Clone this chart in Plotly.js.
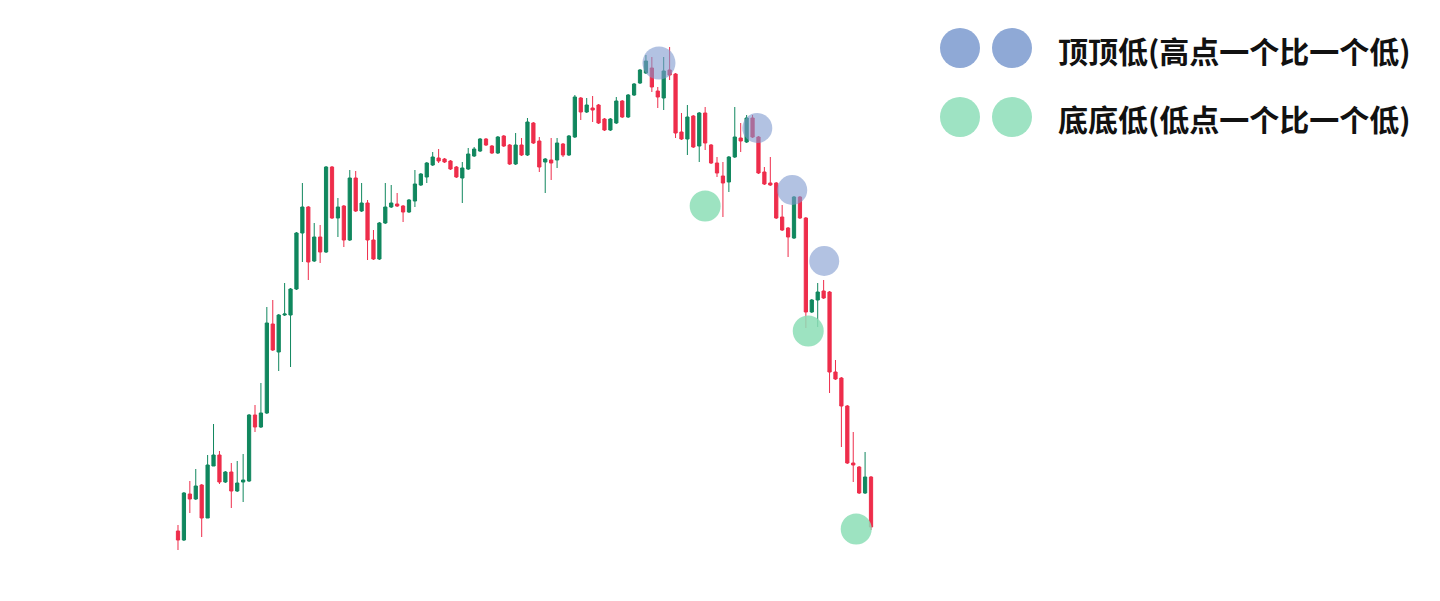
<!DOCTYPE html>
<html>
<head>
<meta charset="utf-8">
<script src="https://cdn.plot.ly/plotly-3.0.1.min.js"></script>
<style>html,body{margin:0;padding:0;background:#fff;}#chart{width:1440px;height:601px;}</style>
</head>
<body>
<div id="chart"></div>
<script>
// Candle values (arbitrary price units)
const openV  = [69,60,106,101,115,82,134,145,118,128,109,118,119,185,173,187,276,248,285,285,311,367,393,339,363,348,433,382,394,360,422,389,397,360,341,377,393,396,394,388,399,415,423,435,442,441,439,433,422,431,444,449,461,454,447,464,455,436,455,445,477,459,438,440,440,456,445,463,502,488,492,495,481,470,477,499,483,505,517,527,532,509,502,530,526,468,461,484,454,487,455,437,424,418,443,462,458,482,463,428,417,417,383,372,362,403,382,288,300,309,308,228,222,194,137,133,107,123];
const highV  = [75,108,119,131,116,145,176,149,129,137,139,146,186,195,217,293,300,286,317,312,368,417,394,377,375,434,434,402,395,430,429,417,400,370,378,417,415,407,395,401,430,427,438,448,451,442,440,434,438,452,453,462,462,455,464,465,456,467,462,482,478,463,442,462,462,457,465,505,503,502,504,496,482,482,503,500,506,517,531,545,543,513,543,553,527,487,495,485,488,493,456,443,438,444,493,477,485,485,464,433,443,418,395,373,404,404,383,301,317,320,309,240,223,195,168,134,148,124];
const lowV   = [50,59,87,100,63,82,134,116,117,92,108,98,118,168,172,186,249,229,284,233,310,338,320,338,337,347,381,363,353,359,388,388,340,340,340,376,392,393,378,387,393,414,417,434,437,437,430,422,397,430,443,448,454,446,446,453,435,435,444,444,456,428,407,420,432,443,444,462,480,487,478,476,469,469,476,482,482,504,516,526,508,492,490,520,462,460,445,452,438,450,436,423,383,408,442,448,457,462,426,415,414,381,369,343,361,381,272,287,273,301,207,220,153,136,118,106,106,70];
const closeV = [60,107,101,114,82,135,145,118,128,109,117,120,185,173,187,277,250,285,286,311,367,393,338,363,348,433,382,393,360,422,389,397,360,341,377,393,397,394,388,400,416,426,437,443,439,438,431,423,432,446,451,461,455,447,463,454,436,455,445,478,457,433,441,437,457,445,464,503,488,495,490,477,470,481,499,483,505,516,530,539,513,503,529,525,467,461,483,453,487,457,437,427,417,443,463,459,482,463,427,416,415,382,370,363,403,382,288,300,308,302,228,221,194,137,135,107,123,73];

// Highlight circles: lower highs (blue) and lower lows (green)
const topX = [81.2, 97.8, 103.7, 109.1];
const topY = [537, 472, 410, 339];
const bottomX = [89.0, 106.4, 114.5];
const bottomY = [394, 269, 71];

// Legend texts
const legendTop = '顶顶低(高点一个比一个低)';
const legendBottom = '底底低(低点一个比一个低)';

const xIdx = openV.map((_, i) => i);

const candle = {
  type: 'candlestick',
  x: xIdx, open: openV, high: highV, low: lowV, close: closeV,
  increasing: {line: {color: '#10875e', width: 1}, fillcolor: '#10875e'},
  decreasing: {line: {color: '#ee2d4b', width: 1}, fillcolor: '#ee2d4b'},
  whiskerwidth: 0,
  hoverinfo: 'skip',
  showlegend: false
};
const tops = {
  type: 'scatter', mode: 'markers', x: topX, y: topY,
  marker: {size: [33, 30, 30, 30], color: 'rgba(125,153,206,0.85)', line: {width: 0}},
  hoverinfo: 'skip', showlegend: false
};
const bottoms = {
  type: 'scatter', mode: 'markers', x: bottomX, y: bottomY,
  marker: {size: 31, color: 'rgba(140,222,182,0.85)', line: {width: 0}},
  hoverinfo: 'skip', showlegend: false
};

const circ = (cx, cy, r, color) => ({
  type: 'circle', xref: 'paper', yref: 'paper', layer: 'above',
  x0: (cx - r) / 1440, x1: (cx + r) / 1440,
  y0: 1 - (cy + r) / 601, y1: 1 - (cy - r) / 601,
  fillcolor: color, line: {width: 0}
});

const layout = {
  width: 1440, height: 601,
  margin: {l: 0, r: 0, t: 0, b: 0},
  paper_bgcolor: '#ffffff', plot_bgcolor: '#ffffff',
  boxgap: 0.22,
  xaxis: {range: [-30.05, 213.06], visible: false, fixedrange: true, rangeslider: {visible: false}},
  yaxis: {range: [-1, 600], visible: false, fixedrange: true},
  shapes: [
    circ(960, 48, 20, '#8fa9d6'), circ(1012, 48, 20, '#8fa9d6'),
    circ(960, 117, 20, '#9ee3c3'), circ(1012, 117, 20, '#9ee3c3')
  ],
  annotations: [
    {xref: 'paper', yref: 'paper', x: 1056 / 1440, y: 1 - 50 / 601, xanchor: 'left', yanchor: 'middle',
     text: '<b>' + legendTop + '</b>', showarrow: false,
     font: {family: 'Noto Sans CJK SC', size: 30, color: '#111111'}},
    {xref: 'paper', yref: 'paper', x: 1056 / 1440, y: 1 - 118 / 601, xanchor: 'left', yanchor: 'middle',
     text: '<b>' + legendBottom + '</b>', showarrow: false,
     font: {family: 'Noto Sans CJK SC', size: 30, color: '#111111'}}
  ]
};

Plotly.newPlot('chart', [candle, tops, bottoms], layout, {staticPlot: true, displayModeBar: false});
</script>
</body>
</html>
